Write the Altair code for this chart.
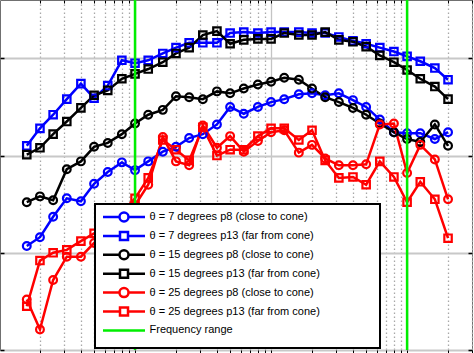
import altair as alt
import pandas as pd

# 1/3-octave band centre frequencies (Hz)
freqs = [16, 20, 25, 31.5, 40, 50, 63, 80, 100, 125, 160, 200, 250, 315, 400, 500,
         630, 800, 1000, 1250, 1600, 2000, 2500, 3150, 4000, 5000, 6300, 8000,
         10000, 12500, 16000, 20000]

series_names = [
    "θ = 7 degrees p8 (close to cone)",
    "θ = 7 degrees p13 (far from cone)",
    "θ = 15 degrees p8 (close to cone)",
    "θ = 15 degrees p13 (far from cone)",
    "θ = 25 degrees p8 (close to cone)",
    "θ = 25 degrees p13 (far from cone)",
]
range_name = "Frequency range"
range_freqs = [100, 10000]

b8 = [10.7, 11.6, 13.7, 15.6, 15.3, 17.1, 18.3, 19.3, 18.5, 19.4, 20.4, 20.9, 21.8, 22.2, 23.2, 25.0,
      24.3, 25.0, 25.5, 25.8, 26.3, 26.4, 26.2, 26.4, 25.7, 25.0, 23.7, 22.4, 22.3, 22.3, 21.7, 22.4]
b13 = [21.0, 22.8, 24.2, 25.8, 27.4, 25.9, 27.2, 29.8, 29.5, 29.8, 30.5, 31.1, 31.6, 31.6, 31.6, 32.6,
       32.7, 32.6, 32.7, 32.7, 32.7, 32.6, 32.6, 32.2, 31.8, 31.5, 31.1, 30.7, 30.2, 29.7, 29.0, 27.8]
k8 = [15.2, 15.8, 15.4, 18.6, 19.4, 20.9, 21.3, 22.2, 23.3, 24.2, 24.7, 26.1, 26.0, 25.8, 26.6, 26.4,
      26.9, 27.3, 27.6, 28.0, 27.8, 26.9, 26.0, 25.5, 24.9, 24.2, 23.3, 22.4, 21.7, 21.4, 23.2, 21.0]
k13 = [20.1, 20.8, 22.2, 23.5, 24.9, 26.2, 26.7, 27.9, 28.4, 28.9, 29.6, 30.5, 31.1, 32.4, 32.8, 31.5,
       31.9, 32.0, 32.0, 32.6, 32.4, 32.4, 32.7, 31.9, 31.7, 31.2, 30.3, 29.6, 28.8, 27.9, 27.1, 25.8]
r8 = [5.2, 2.1, 7.2, 9.6, 9.6, 11.0, 12.1, 13.4, 14.9, 17.0, 21.9, 19.4, 19.0, 23.1, 20.8, 22.0,
      20.4, 21.5, 22.4, 22.6, 20.3, 21.1, 19.7, 19.0, 19.0, 19.1, 23.2, 23.3, 18.2, 21.1, 19.6, 15.5]
r13 = [4.5, 9.2, 10.0, 10.3, 11.2, 12.0, 12.9, 14.2, 15.6, 17.7, 21.6, 20.6, 19.5, 22.9, 20.0, 20.6,
       20.6, 22.0, 22.8, 22.8, 21.6, 22.6, 19.5, 17.7, 17.8, 17.0, 19.4, 17.8, 15.2, 17.3, 15.5, 11.5]

y_grid = [0, 10, 20, 30]
x_grid = [m * 10 ** e for e in (1, 2, 3) for m in range(1, 10)] + [10000, 20000, 30000]

colors = ["#0000ff", "#0000ff", "#000000", "#000000", "#ff0000", "#ff0000", "#00ee00"]

rows = []
for name, vals in zip(series_names, [b8, b13, k8, k13, r8, r13]):
    for f, v in zip(freqs, vals):
        rows.append({"freq": f, "value": v, "series": name,
                     "marker": "circle" if " p8 " in name else "square"})
df = pd.DataFrame(rows)
rng = pd.DataFrame({"freq": range_freqs, "series": [range_name] * len(range_freqs)})

domain = series_names + [range_name]
color_scale = alt.Scale(domain=domain, range=colors)

# legend symbols: line sample with a marker in the middle (unit = sqrt(symbolSize)/2 px)
circ = "M-6,0H-1.286M1.286,0H6M-1.286,0A1.286,1.286,0,1,0,1.286,0A1.286,1.286,0,1,0,-1.286,0Z"
sq = "M-6,0H-1.143M1.143,0H6M-1.143,-1.143H1.143V1.143H-1.143Z"
ln = "M-6,0H6M0,-1.286M0,1.286"
shape_scale = alt.Scale(domain=domain, range=[circ, sq, circ, sq, circ, sq, ln])

xs = alt.Scale(type="log", domain=[10.17, 30000], nice=False)
ys = alt.Scale(domain=[0, 36], nice=False, zero=False)

decade_test = "indexof([10,100,1000,10000], datum.value) >= 0"

x_bottom = alt.Axis(values=x_grid, labels=False, title=None, domain=False,
                    grid=True,
                    gridDash={"condition": {"test": decade_test, "value": []}, "value": [1.5, 2.5]},
                    gridColor={"condition": {"test": decade_test, "value": "#c4c4c4"}, "value": "#a8a8a8"},
                    gridWidth=1.3,
                    ticks=True, tickSize=3, tickColor="#000000", tickWidth=1)
y_left = alt.Axis(values=y_grid, labels=False, title=None, domain=False, grid=True,
                  gridColor="#c8c8c8", gridWidth=1.8, ticks=False)
x_top = alt.Axis(orient="top", offset=-3, values=x_grid, labels=False, title=None, domain=False,
                 grid=False, ticks=True, tickSize=3, tickColor="#000000", tickWidth=1)
y_left_ticks = alt.Axis(orient="left", offset=-4, values=y_grid, labels=False, title=None,
                        domain=False, grid=False, ticks=True, tickSize=4, tickColor="#000000", tickWidth=1.5)
y_right_ticks = alt.Axis(orient="right", offset=-4, values=y_grid, labels=False, title=None,
                         domain=False, grid=False, ticks=True, tickSize=4, tickColor="#000000", tickWidth=1.5)

# trailing no-break spaces (kept by a zero-width space) widen the legend box like MATLAB's
pad = "\u00a0" * 17 + "\u200b"
leg = alt.Legend(title=None, orient="none", legendX=95, legendY=204, direction="vertical",
                 padding=7.5, rowPadding=-1.1, symbolSize=49, symbolStrokeWidth=2.5,
                 symbolOffset=16, labelOffset=20, labelFont="Liberation Sans", labelFontSize=11,
                 labelColor="#000000", labelLimit=0, labelExpr="datum.label + '" + pad + "'",
                 fillColor="#ffffff", strokeColor="#000000")

color_enc = alt.Color("series:N", scale=color_scale, legend=leg)

base = alt.Chart(df)

lines = base.mark_line(strokeWidth=2.5).encode(
    x=alt.X("freq:Q", scale=xs, axis=x_bottom),
    y=alt.Y("value:Q", scale=ys, axis=y_left),
    color=color_enc,
)
circles = base.transform_filter("datum.marker == 'circle'").mark_point(
    shape="circle", filled=False, size=60, strokeWidth=2.2, opacity=1).encode(
    x=alt.X("freq:Q", scale=xs, axis=x_top),
    y=alt.Y("value:Q", scale=ys, axis=y_left_ticks),
    color=color_enc,
)
squares = base.transform_filter("datum.marker == 'square'").mark_point(
    shape="square", filled=False, size=55, strokeWidth=2.2, opacity=1).encode(
    x=alt.X("freq:Q", scale=xs, axis=None),
    y=alt.Y("value:Q", scale=ys, axis=y_right_ticks),
    color=color_enc,
)
rules = alt.Chart(rng).mark_rule(strokeWidth=2.5).encode(
    x=alt.X("freq:Q", scale=xs, axis=None),
    color=color_enc,
)
legend_layer = base.transform_filter("false").mark_point(filled=False, strokeWidth=2.5, opacity=1).encode(
    x=alt.X("freq:Q", scale=xs, axis=None),
    y=alt.Y("value:Q", scale=ys, axis=None),
    color=color_enc,
    shape=alt.Shape("series:N", scale=shape_scale, legend=leg),
)

chart = alt.layer(lines, circles, squares, rules, legend_layer).resolve_axis(
    x="independent", y="independent"
).properties(
    width=472, height=350,
    padding={"left": 0, "top": 0, "right": 2, "bottom": 3},
    autosize=alt.AutoSizeParams(type="none"),
    background="#ffffff",
).configure_view(stroke="#707070", strokeWidth=1).configure_legend(strokeWidth=2)

chart.save("out.html", embed_options={"renderer": "svg", "actions": False})
